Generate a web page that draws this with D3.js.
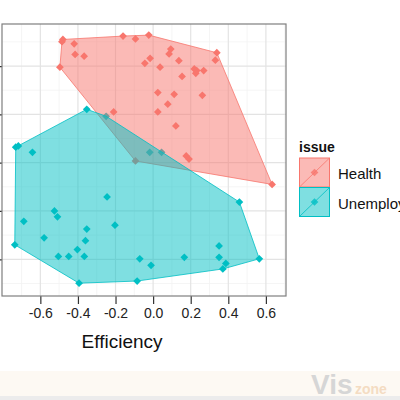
<!doctype html>
<html lang="en">
  <head>
    <meta charset="utf-8">
    <script src="https://cdn.jsdelivr.net/npm/d3@7"></script>
    <style>
      body {margin:0; background:white}
      svg {display:block; font-family: "Liberation Sans", Arial, sans-serif}
    </style>
    <title>Efficiency hulls</title>
  </head>
  <body>
    <script>
      // issue groups
      const issues = ["Health", "Unemployment"];
      const colours = ["#F8766D", "#00BFC4"];

      // Health points (Efficiency, y)
      const healthX = [-0.480, -0.485, -0.420, -0.160, -0.094, -0.023, 0.339, 0.331, -0.415, -0.367,
                       -0.496, 0.094, 0.085, 0.137, -0.016, -0.044, 0.037, 0.219, 0.232, 0.227,
                       0.269, 0.154, 0.025, 0.112, 0.262, 0.078, 0.025, -0.210, 0.121, 0.176,
                       0.191, 0.633, -0.094];
      const healthY = [0.510, 0.501, 0.492, 0.524, 0.512, 0.528, 0.455, 0.424, 0.448, 0.441,
                       0.395, 0.470, 0.450, 0.422, 0.432, 0.411, 0.395, 0.388, 0.381, 0.370,
                       0.381, 0.357, 0.290, 0.283, 0.279, 0.242, 0.210, 0.210, 0.152, 0.028,
                       0.015, -0.090, 0.007];

      // Unemployment points
      const unempX = [-0.353, -0.250, -0.731, -0.717, -0.642, -0.018, 0.045, 0.459, -0.245, -0.525,
                      -0.509, -0.688, -0.203, -0.353, -0.580, -0.360, -0.736, -0.403, -0.504, -0.449,
                      -0.366, -0.071, -0.011, 0.166, 0.351, 0.351, 0.387, 0.371, 0.565, -0.394,
                      -0.085];
      const unempY = [0.221, 0.192, 0.064, 0.069, 0.043, 0.043, 0.043, -0.163, -0.142, -0.200,
                      -0.224, -0.243, -0.259, -0.275, -0.311, -0.323, -0.340, -0.360, -0.388, -0.388,
                      -0.388, -0.398, -0.425, -0.392, -0.345, -0.392, -0.417, -0.440, -0.398, -0.499,
                      -0.490];

      const xTicks = [-0.6, -0.4, -0.2, 0.0, 0.2, 0.4, 0.6];
      const yTicks = [-0.4, -0.2, 0.0, 0.2, 0.4];
      const xMinor = [-0.7, -0.5, -0.3, -0.1, 0.1, 0.3, 0.5, 0.7];
      const yMinor = [-0.5, -0.3, -0.1, 0.1, 0.3, 0.5];

      let margin = {top:24, left:2, right:114, bottom:104};
      let w = 400 - margin.left - margin.right;
      let h = 400 - margin.top - margin.bottom;

      let svg = d3.select("body").append("svg")
        .attr("width", 400)
        .attr("height", 400);

      // watermark band at the bottom
      svg.append("rect").attr("x", 0).attr("y", 371).attr("width", 400).attr("height", 25).attr("fill", "#fdf9f3");
      svg.append("rect").attr("x", 0).attr("y", 396).attr("width", 400).attr("height", 4).attr("fill", "#ececec");
      svg.append("text").attr("x", 311).attr("y", 394)
        .attr("font-size", "28px").attr("font-weight", "bold").attr("fill", "#d6d6d6").text("Vis");
      svg.append("text").attr("x", 355).attr("y", 394)
        .attr("font-size", "14px").attr("font-weight", "bold").attr("fill", "#f4dcc2").text("zone");

      let canvas = svg.append("g")
        .attr("transform", "translate(" + margin.left + "," + margin.top + ")");

      let x = d3.scaleLinear().domain([-0.804, 0.707]).range([0, w]);
      let y = d3.scaleLinear().domain([-0.552, 0.574]).range([h, 0]);

      canvas.append("rect").attr("width", w).attr("height", h).attr("fill", "white");

      // grid
      canvas.selectAll(".vminor").data(xMinor).enter().append("line")
        .attr("x1", d => x(d)).attr("x2", d => x(d)).attr("y1", 0).attr("y2", h)
        .attr("stroke", "#f2f2f2").attr("stroke-width", 0.8);
      canvas.selectAll(".hminor").data(yMinor).enter().append("line")
        .attr("y1", d => y(d)).attr("y2", d => y(d)).attr("x1", 0).attr("x2", w)
        .attr("stroke", "#f2f2f2").attr("stroke-width", 0.8);
      canvas.selectAll(".vmajor").data(xTicks).enter().append("line")
        .attr("x1", d => x(d)).attr("x2", d => x(d)).attr("y1", 0).attr("y2", h)
        .attr("stroke", "#e3e3e3").attr("stroke-width", 1.2);
      canvas.selectAll(".hmajor").data(yTicks).enter().append("line")
        .attr("y1", d => y(d)).attr("y2", d => y(d)).attr("x1", 0).attr("x2", w)
        .attr("stroke", "#e3e3e3").attr("stroke-width", 1.2);

      let groups = [
        {issue: issues[0], colour: colours[0], pts: healthX.map((v, i) => [v, healthY[i]])},
        {issue: issues[1], colour: colours[1], pts: unempX.map((v, i) => [v, unempY[i]])}
      ];

      let diamond = d3.symbol().type(d3.symbolSquare).size(30);

      // points first, hulls on top with alpha (as in the original)
      groups.forEach(g => {
        canvas.selectAll(null).data(g.pts).enter().append("path")
          .attr("d", diamond)
          .attr("transform", d => "translate(" + x(d[0]) + "," + y(d[1]) + ") rotate(45)")
          .attr("fill", g.colour);
      });

      groups.forEach(g => {
        let hull = d3.polygonHull(g.pts.map(d => [x(d[0]), y(d[1])]));
        canvas.append("path")
          .attr("d", "M" + hull.join("L") + "Z")
          .attr("fill", g.colour)
          .attr("fill-opacity", 0.5)
          .attr("stroke", g.colour)
          .attr("stroke-width", 0.8);
      });

      // axes
      let xAxis = canvas.append("g")
        .attr("transform", "translate(0," + h + ")")
        .call(d3.axisBottom(x).tickValues(xTicks).tickFormat(d3.format(".1f")).tickSize(8).tickPadding(4));
      xAxis.select(".domain").remove();
      xAxis.selectAll("line").attr("stroke", "#333").attr("stroke-width", 1.2);
      xAxis.selectAll("text").attr("font-size", "14px").attr("fill", "#222")
        .attr("font-family", "'Liberation Sans', Arial, sans-serif")
        .text(d => d3.format(".1f")(d).replace("−", "-"));

      // y tick labels sit outside the cropped picture, only the tick marks show
      let yAxis = canvas.append("g")
        .call(d3.axisLeft(y).tickValues(yTicks).tickFormat("").tickSize(8));
      yAxis.select(".domain").remove();
      yAxis.selectAll("line").attr("stroke", "#333").attr("stroke-width", 1.2);

      canvas.append("rect").attr("width", w).attr("height", h)
        .attr("fill", "none").attr("stroke", "#7f7f7f").attr("stroke-width", 1.2);

      canvas.append("text")
        .attr("x", x(-0.165)).attr("y", h + 52)
        .attr("text-anchor", "middle")
        .attr("font-size", "19px").attr("fill", "#111")
        .text("Efficiency");

      // legend
      let legend = svg.append("g").attr("transform", "translate(299,134)");
      legend.append("text").attr("x", 0).attr("y", 18)
        .attr("font-size", "14px").attr("font-weight", "bold").attr("fill", "#111").text("issue");
      groups.forEach((g, i) => {
        let k = legend.append("g").attr("transform", "translate(0," + (24 + i * 29.5) + ")");
        k.append("rect").attr("x", 0.5).attr("y", 0).attr("width", 30).attr("height", 29)
          .attr("fill", "white");
        k.append("rect").attr("x", 0.5).attr("y", 0).attr("width", 30).attr("height", 29)
          .attr("fill", g.colour).attr("fill-opacity", 0.5)
          .attr("stroke", g.colour).attr("stroke-width", 1);
        k.append("line").attr("x1", 1).attr("y1", 28.5).attr("x2", 30).attr("y2", 0.5)
          .attr("stroke", g.colour).attr("stroke-width", 0.8);
        k.append("path").attr("d", diamond)
          .attr("transform", "translate(15.5,14.5) rotate(45)")
          .attr("fill", g.colour).attr("fill-opacity", 0.8);
        k.append("text").attr("x", 39).attr("y", 21)
          .attr("font-size", "15px").attr("fill", "#111").text(g.issue);
      });
    </script>
  </body>
</html>
